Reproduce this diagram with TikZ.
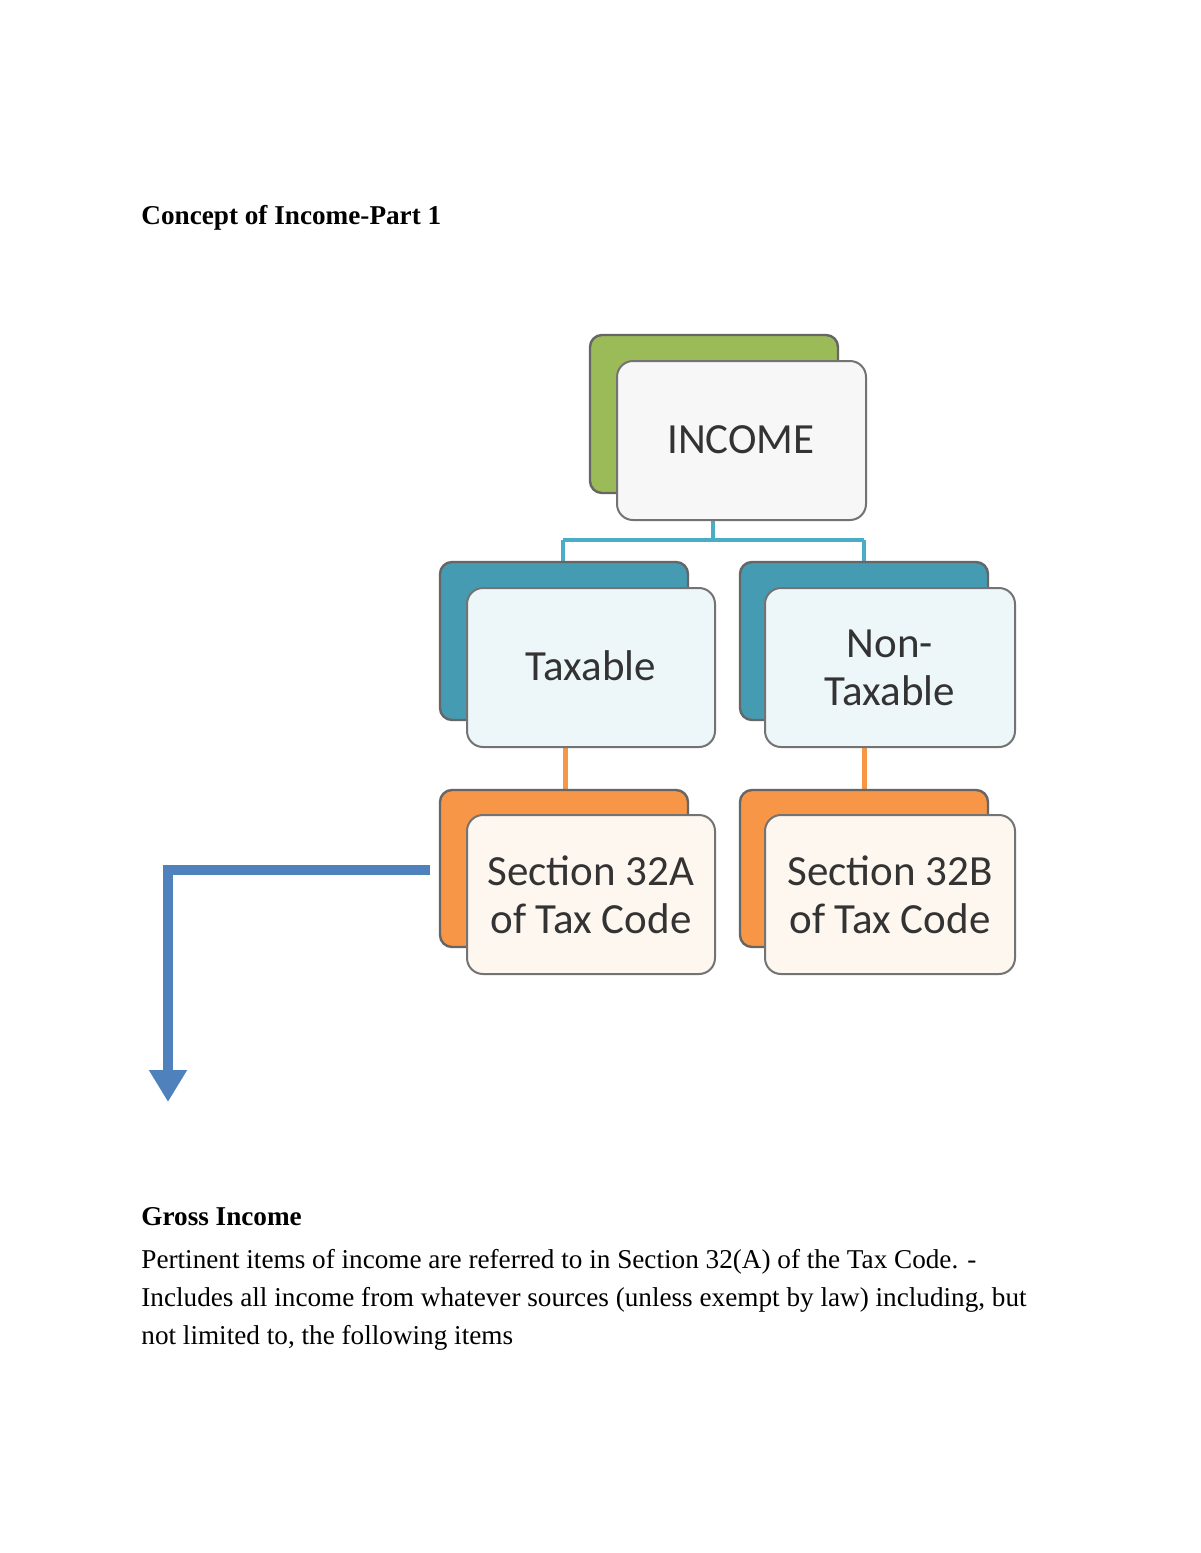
\documentclass[tikz,border=0pt]{standalone}
\usepackage{fontspec}
\setmainfont{Liberation Serif}
\newfontfamily\boxfont{Carlito}
\usetikzlibrary{arrows.meta}
\definecolor{gr}{HTML}{9BBB59}
\definecolor{bl}{HTML}{4BACC6}
\definecolor{orb}{HTML}{F79646}
\definecolor{arr}{HTML}{4F81BD}
\tikzset{
 backbox/.style={draw=black!60,line width=1.2pt,rounded corners=6pt},
 frontbox/.style={draw=black!55,line width=1pt,rounded corners=8pt},
 lbl/.style={font=\boxfont\fontsize{21.5}{24}\selectfont,align=center,text=black!80},
 txt/.style={anchor=west,inner sep=0pt,font=\fontsize{13.6}{15}\selectfont}
}
\begin{document}
\begin{tikzpicture}[x=0.5pt,y=-0.5pt]
\useasboundingbox[fill=white] (0,0) rectangle (1200,1553);
\node[txt,font=\bfseries\fontsize{13.6}{15}\selectfont] (title) at (141,218) {Concept of Income-Part 1};
% connectors
\coordinate (c1) at (713,540);
\coordinate (cl) at (563,540);
\coordinate (cr) at (864,540);
\draw[bl,line width=2pt] (713,520) -- (c1) (cl) -- (cr) (cl) -- (563,562) (cr) -- (864,562);
\draw[orb,line width=2.5pt] (565,747) -- (565,790) (864,747) -- (864,790);
% boxes
\draw[backbox,fill=gr] (590,335) rectangle (838,493);
\draw[frontbox,fill=black!3] (617,361) rectangle (866,520);
\node[lbl] (inc) at (741,440) {INCOME};
\draw[backbox,fill=bl!90!black] (440,562) rectangle (688,720);
\draw[frontbox,fill=bl!10] (467,588) rectangle (715,747);
\node[lbl] (tax) at (591,666) {Taxable};
\draw[backbox,fill=bl!90!black] (740,562) rectangle (988,720);
\draw[frontbox,fill=bl!10] (765,588) rectangle (1015,747);
\node[lbl] (ntax) at (890,668) {Non-\\Taxable};
\draw[backbox,fill=orb] (440,790) rectangle (688,947);
\draw[frontbox,fill=orb!8] (467,815) rectangle (715,974);
\node[lbl] (s32a) at (591,895) {Section 32A\\of Tax Code};
\draw[backbox,fill=orb] (740,790) rectangle (988,947);
\draw[frontbox,fill=orb!8] (765,815) rectangle (1015,974);
\node[lbl] (s32b) at (890,895) {Section 32B\\of Tax Code};
% big arrow
\coordinate (aend) at (168,1102);
\draw[arr,line width=5pt,-{Triangle[length=16pt,width=18pt]}] (430,870) -- (168,870) -- (aend);
% text
\node[txt,font=\bfseries\fontsize{13.6}{15}\selectfont] (gi) at (141,1217) {Gross Income};
\node[txt] (p1) at (141,1262) {Pertinent items of income are referred to in Section 32(A) of the Tax Code. -};
\node[txt] (p2) at (141,1300) {Includes all income from whatever sources (unless exempt by law) including, but};
\node[txt] (p3) at (141,1338) {not limited to, the following items};
\end{tikzpicture}
\end{document}
